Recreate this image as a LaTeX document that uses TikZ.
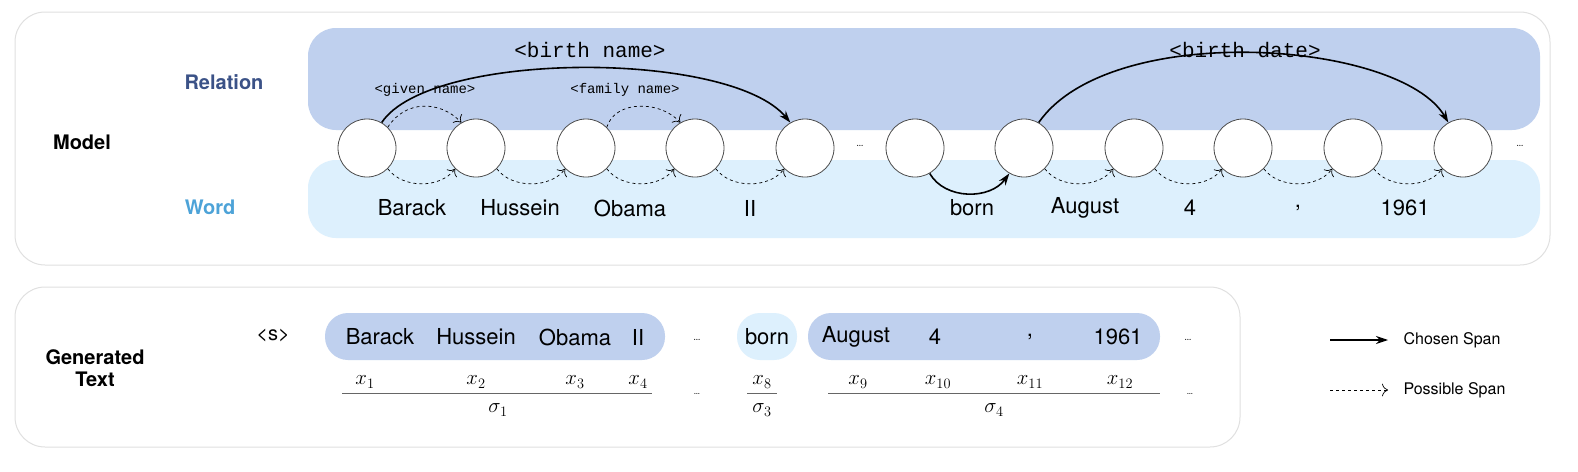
\documentclass[tikz,border=0pt]{standalone}
\usepackage{fontspec}
\setsansfont{TeX Gyre Heros}
\setmonofont{Liberation Mono}
\usetikzlibrary{arrows.meta}
\definecolor{relc}{HTML}{BFD0EE}
\definecolor{wordc}{HTML}{DDF0FD}
\definecolor{reltxt}{HTML}{3B5287}
\definecolor{wordtxt}{HTML}{4DA3D8}
\tikzset{
 panel/.style={draw=black!12,fill=white,rounded corners=30pt,line width=1pt},
 st/.style={circle,draw=black!70,fill=white,minimum size=58pt,inner sep=0pt,line width=0.8pt},
 wd/.style={font=\sffamily\fontsize{22}{22}\selectfont},
 rl/.style={font=\ttfamily\fontsize{21}{21}\selectfont},
 srl/.style={font=\ttfamily\fontsize{14}{14}\selectfont},
 hd/.style={font=\sffamily\bfseries\fontsize{20}{22}\selectfont,align=center},
 chosen/.style={-{Stealth[length=12pt,width=8pt]},line width=1.6pt},
 poss/.style={-{To[length=6pt]},dashed,line width=0.7pt},
 xl/.style={font=\fontsize{20}{20}\selectfont},
}
\begin{document}
\begin{tikzpicture}[x=1pt,y=-1pt]
\useasboundingbox (0,0) rectangle (1578,471);
\draw[panel] (15,12) rectangle (1550,265);
\draw[panel] (15,287) rectangle (1240,447);
\fill[relc,rounded corners=28pt] (308,28) rectangle (1540,130);
\fill[wordc,rounded corners=28pt] (308,160) rectangle (1540,238);
\node[hd] (model) at (82,142) {Model};
\node[hd,text=reltxt] (rel) at (224,82) {Relation};
\node[hd,text=wordtxt] (word) at (210,207) {Word};
\foreach \i/\x in {1/367,2/476,3/586,4/695,5/805,6/915,7/1024,8/1134,9/1243,10/1353,11/1463}
  \node[st] (c\i) at (\x,148) {};
\node[font=\large] (d1) at (860,146) {\dots};
\node[font=\large] (d2) at (1520,146) {\dots};
\foreach \t/\x/\n in {Barack/412/w1,Hussein/520/w2,Obama/630/w3,II/750/w4,born/972/w5,August/1085/w6,4/1190/w7,{,}/1298/w8,1961/1405/w9}
  \node[wd] (\n) at (\x,208) {\t};
\node[rl] (bn) at (590,50) {<birth name>};
\node[rl] (bd) at (1245,50) {<birth date>};
\node[srl] (gn) at (425,90) {<given name>};
\node[srl] (fn) at (625,90) {<family name>};
% chosen
\draw[chosen] (c1.60) .. controls (430,50) and (730,50) .. (c5.120);
\draw[chosen] (c7.60) .. controls (1110,20) and (1400,40) .. (c11.120);
\draw[chosen] (c6.-60) .. controls (945,200) and (990,200) .. (c7.-120);
% possible top
\draw[poss] (c1.45) .. controls (405,100) and (440,100) .. (c2.120);
\draw[poss] (c3.45) .. controls (615,100) and (660,100) .. (c4.120);
% possible bottom
\foreach \a/\b in {1/2,2/3,3/4,4/5,7/8,8/9,9/10,10/11}
  \draw[poss] (c\a.-45) .. controls ([xshift=15pt,yshift=-20pt]c\a.-45) and ([xshift=-15pt,yshift=-20pt]c\b.-135) .. (c\b.-135);
% generated text
\node[hd] (gt) at (95,368) {Generated\\Text};
\node[font=\sffamily\fontsize{20}{20}\selectfont] (s) at (273,335) {<s>};
\fill[relc,rounded corners=23pt] (325,313) rectangle (665,360);
\fill[wordc,rounded corners=23pt] (737,313) rectangle (797,360);
\fill[relc,rounded corners=23pt] (808,313) rectangle (1160,360);
\foreach \t/\x/\n in {Barack/380/g1,Hussein/476/g2,Obama/575/g3,II/638/g4,born/767/g5,August/856/g6,4/935/g7,{,}/1030/g8,1961/1118/g9}
  \node[wd] (\n) at (\x,337) {\t};
\node[font=\large] (gd1) at (697,340) {\dots};
\node[font=\large] (gd2) at (1188,340) {\dots};
\node[font=\normalsize] (gd3) at (697,394) {\dots};
\node[font=\normalsize] (gd4) at (1190,394) {\dots};
\foreach \t/\x/\n in {1/365/x1,2/476/x2,3/575/x3,4/638/x4,8/762/x8,9/858/x9,10/938/x10,11/1030/x11,12/1120/x12}
  \node[xl] (\n) at (\x,382) {$x_{\t}$};
\coordinate (l1a) at (342,393); \coordinate (l1b) at (652,393);
\coordinate (l2a) at (747,393); \coordinate (l2b) at (777,393);
\coordinate (l3a) at (828,393); \coordinate (l3b) at (1160,393);
\draw[black!60,line width=0.8pt] (l1a)--(l1b) (l2a)--(l2b) (l3a)--(l3b);
\node[xl] (s1) at (498,410) {$\sigma_1$};
\node[xl] (s3) at (762,410) {$\sigma_3$};
\node[xl] (s4) at (994,410) {$\sigma_4$};
% legend
\coordinate (la) at (1330,340); \coordinate (lb) at (1388,340);
\coordinate (lc) at (1330,390); \coordinate (ld) at (1388,390);
\draw[chosen,line width=1.2pt] (la) -- (lb);
\draw[poss] (lc) -- (ld);
\node[font=\sffamily\fontsize{16}{16}\selectfont,anchor=west] (cs) at (1400,340) {Chosen Span};
\node[font=\sffamily\fontsize{16}{16}\selectfont,anchor=west] (ps) at (1400,390) {Possible Span};
\end{tikzpicture}
\end{document}
